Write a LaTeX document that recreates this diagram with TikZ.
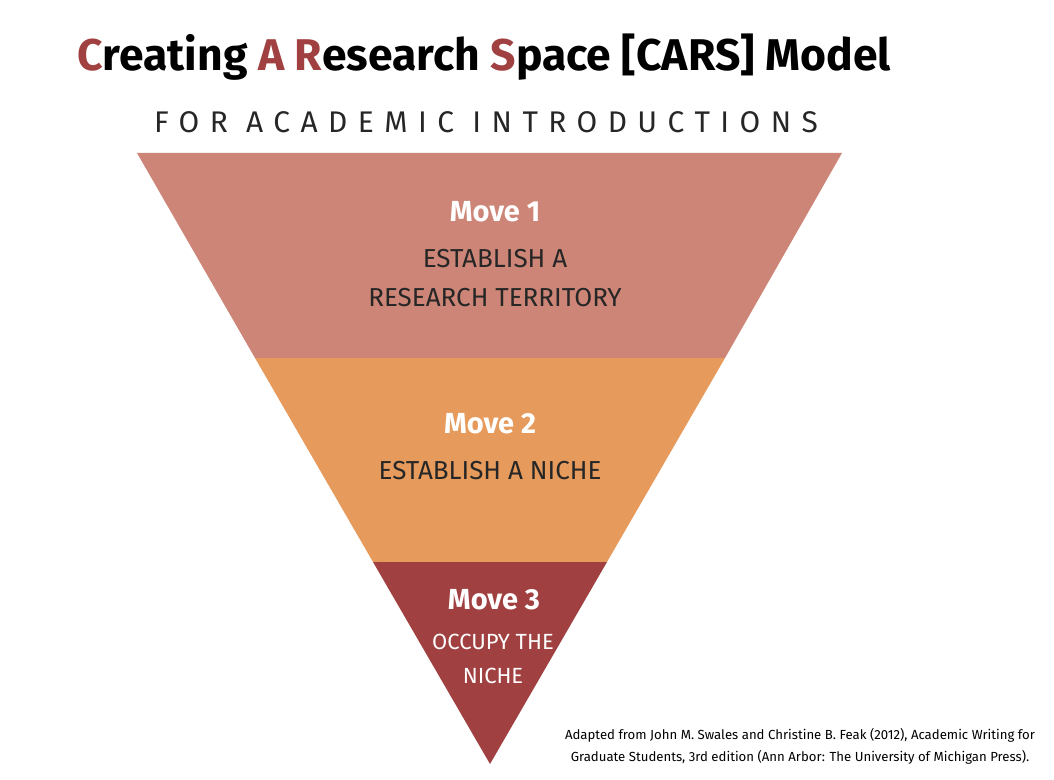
\documentclass[tikz,border=0pt]{standalone}
\usepackage{fontspec}
\setmainfont{Fira Sans}
\definecolor{bandone}{HTML}{CC8576}
\definecolor{bandtwo}{HTML}{E69A5C}
\definecolor{bandthree}{HTML}{A04040}
\definecolor{inkdark}{HTML}{262626}
\tikzset{
  movehead/.style={text=white, font=\fontsize{16.5}{19}\selectfont\bfseries},
  movetext/.style={text=inkdark, font=\fontsize{14.8}{22}\selectfont, align=center},
}
\begin{document}
\begin{tikzpicture}[x=0.02cm,y=-0.02cm]
\useasboundingbox (0,0) rectangle (1054,780);

% funnel bands
\fill[bandone] (137,153) -- (842,153) -- (725,358) -- (255,358) -- cycle;
\fill[bandtwo] (255,358) -- (725,358) -- (607,562) -- (373,562) -- cycle;
\fill[bandthree] (373,562) -- (607,562) -- (490,764) -- cycle;

% heading
\node (title) at (484,57) {\fontsize{25.3}{30}\selectfont\bfseries
  \textcolor{bandthree}{C}reating \textcolor{bandthree}{A R}esearch \textcolor{bandthree}{S}pace [CARS] Model};
\node[text=inkdark] (subtitle) at (486,122) {\fontsize{17}{20}\selectfont\addfontfeature{LetterSpace=35}FOR ACADEMIC INTRODUCTIONS};

% move labels
\node[movehead] (move1) at (495,212) {Move 1};
\node[movetext] (text1) at (495,278) {ESTABLISH A\\RESEARCH TERRITORY};
\node[movehead] (move2) at (490,424) {Move 2};
\node[movetext] (text2) at (490,471) {ESTABLISH A NICHE};
\node[movehead] (move3) at (494,600) {Move 3};
\node[movetext, text=white, font=\fontsize{12.5}{19}\selectfont] (text3) at (493,659) {OCCUPY THE\\NICHE};

% source
\node[align=center, font=\fontsize{7.5}{12.5}\selectfont] (source) at (800,746)
  {Adapted from John M. Swales and Christine B. Feak (2012), Academic Writing for\\
   Graduate Students, 3rd edition (Ann Arbor: The University of Michigan Press).};
\end{tikzpicture}
\end{document}
